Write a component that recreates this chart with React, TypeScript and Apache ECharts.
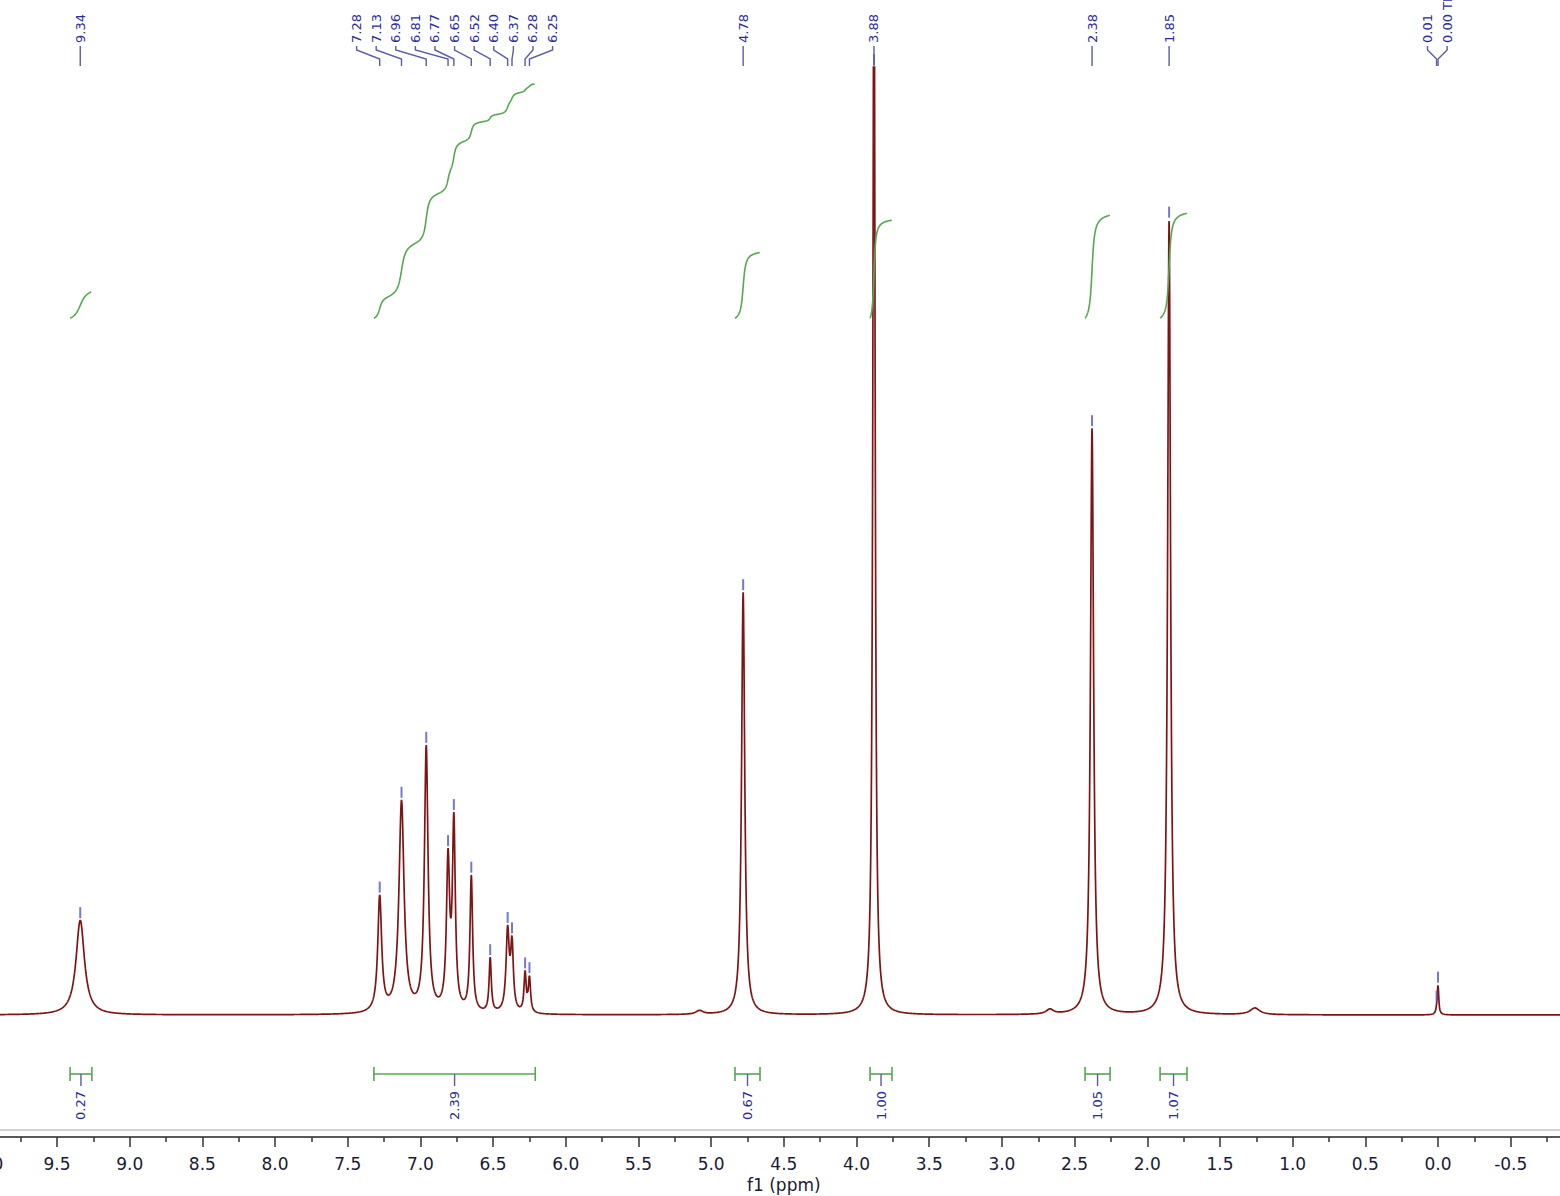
import React, { useEffect, useRef } from "react";
import * as echarts from "echarts";

// ---- data ----
const peakPpm = [9.34, 7.28, 7.13, 6.96, 6.81, 6.77, 6.65, 6.52, 6.40, 6.37, 6.28, 6.25, 4.78, 3.88, 2.38, 1.85, 0.01, 0.00];
const peakHeight = [10.0, 12.7, 22.7, 28.5, 17.6, 21.4, 14.8, 6.1, 9.5, 8.4, 4.7, 4.2, 44.6, 120, 61.9, 83.9, 1.2, 3.2];
const peakWidth = [0.035, 0.016, 0.021, 0.015, 0.013, 0.012, 0.011, 0.009, 0.013, 0.011, 0.009, 0.009, 0.013, 0.009, 0.013, 0.012, 0.006, 0.006];
const peakLabel = ["9.34", "7.28", "7.13", "6.96", "6.81", "6.77", "6.65", "6.52", "6.40", "6.37", "6.28", "6.25", "4.78", "3.88", "2.38", "1.85", "0.01", "0.00 TMS"];

const minorPpm = [5.08, 2.67, 1.26];
const minorHeight = [0.4, 0.5, 0.7];
const minorWidth = [0.03, 0.03, 0.04];

const integralFrom = [9.41, 7.32, 4.836, 3.907, 2.428, 1.912];
const integralTo = [9.26, 6.21, 4.664, 3.756, 2.256, 1.727];
const integralValue = [0.27, 2.39, 0.67, 1.0, 1.05, 1.07];

const axisMin = -1.0;
const axisMax = 10.0;
const axisStep = 0.5;

// ---- derived spectrum (Lorentzian line shapes from the peak list) ----
const lor = (x: number, x0: number, w: number) => 1 / (1 + ((x - x0) / w) ** 2);
const minorAt = (x: number) => {
  let s = 0;
  for (let j = 0; j < minorPpm.length; j++) s += minorHeight[j] * lor(x, minorPpm[j], minorWidth[j]);
  return s;
};
const amps = peakHeight.slice();
for (let it = 0; it < 60; it++) {
  for (let i = 0; i < peakPpm.length; i++) {
    let others = minorAt(peakPpm[i]);
    for (let j = 0; j < peakPpm.length; j++) if (j !== i) others += amps[j] * lor(peakPpm[i], peakPpm[j], peakWidth[j]);
    amps[i] = Math.max(0, peakHeight[i] - others);
  }
}
const spectrumAt = (x: number) => {
  let s = minorAt(x);
  for (let j = 0; j < peakPpm.length; j++) s += amps[j] * lor(x, peakPpm[j], peakWidth[j]);
  return s;
};
const STEP = 0.0015;
const spectrum: number[][] = [];
for (let x = axisMax; x >= axisMin; x -= STEP) spectrum.push([x, spectrumAt(x)]);

const INTEGRAL_BASE = 73.5;
const INTEGRAL_SCALE = 10.34;
const integralCurves = integralFrom.map((from, k) => {
  const to = integralTo[k];
  const xs: number[] = [];
  for (let x = from; x >= to; x -= STEP / 2) xs.push(x);
  const cum: number[] = [0];
  for (let i = 1; i < xs.length; i++) cum.push(cum[i - 1] + (spectrumAt(xs[i]) + spectrumAt(xs[i - 1])) / 2);
  const total = cum[cum.length - 1];
  return xs.map((x, i) => [x, INTEGRAL_BASE + (cum[i] / total) * integralValue[k] * INTEGRAL_SCALE]);
});

const BLUE_TEXT = "#2c2c9c";
const BLUE_MARK = "rgba(95,95,205,0.85)";
const GREEN = "#55a84f";
const RED = "#7e1515";

// label layout: spread overlapping labels around the middle of their extreme peaks
function layoutLabels(px: number[], gap: number): number[] {
  const order = px.map((_, i) => i).sort((a, b) => px[a] - px[b]);
  let clusters = order.map((i) => ({ members: [i], lo: px[i], hi: px[i] }));
  const centerOf = (c: any) => (c.lo + c.hi) / 2;
  let changed = true;
  while (changed) {
    changed = false;
    for (let k = 0; k < clusters.length - 1; k++) {
      const a = clusters[k], b = clusters[k + 1];
      const aRight = centerOf(a) + ((a.members.length - 1) * gap) / 2;
      const bLeft = centerOf(b) - ((b.members.length - 1) * gap) / 2;
      if (bLeft - aRight < gap) {
        clusters.splice(k, 2, { members: a.members.concat(b.members), lo: Math.min(a.lo, b.lo), hi: Math.max(a.hi, b.hi) });
        changed = true;
        break;
      }
    }
  }
  const out: number[] = new Array(px.length);
  clusters.forEach((c) => {
    const c0 = centerOf(c) - ((c.members.length - 1) * gap) / 2;
    c.members.forEach((m, r) => (out[m] = c0 + r * gap));
  });
  return out;
}

export default function App() {
  const ref = useRef<HTMLDivElement>(null);
  useEffect(() => {
    if (!ref.current) return;
    const chart = echarts.init(ref.current, undefined, { renderer: "svg" });
    const labelFont = { fontSize: 13, fontFamily: "DejaVu Sans" };
    chart.setOption({
      animation: false,
      backgroundColor: "#ffffff",
      grid: { left: 24.3, right: 56.6, top: 67, bottom: 59, containLabel: false, outerBoundsMode: "none" },
      xAxis: {
        type: "value",
        inverse: true,
        min: axisMin,
        max: axisMax,
        interval: axisStep,
        name: "f1 (ppm)",
        nameLocation: "middle",
        nameGap: 37,
        nameTextStyle: { fontSize: 17, color: "#1a1a33", fontFamily: "DejaVu Sans" },
        axisLine: { onZero: false, lineStyle: { color: "#222", width: 1.5 } },
        axisTick: { length: 10, lineStyle: { color: "#333", width: 1.5 } },
        minorTick: { show: true, splitNumber: 2, length: 5, lineStyle: { color: "#333", width: 1.5 } },
        axisLabel: {
          fontSize: 17,
          color: "#1a1a33",
          margin: 18,
          fontFamily: "DejaVu Sans",
          formatter: (v: number) => (v <= axisMin ? "" : v.toFixed(1)),
        },
        splitLine: { show: false },
      },
      yAxis: { type: "value", min: -12.87, max: 100, show: false },
      graphic: [
        { type: "line", shape: { x1: 40, y1: 1130, x2: 1600, y2: 1130 }, style: { stroke: "#d2d2d2", lineWidth: 2 }, silent: true },
      ],
      series: [
        {
          type: "line",
          data: spectrum,
          showSymbol: false,
          symbol: "none",
          lineStyle: { color: RED, width: 1.7 },
          z: 3,
        },
        ...integralCurves.map((curve) => ({
          type: "line",
          data: curve,
          showSymbol: false,
          symbol: "none",
          lineStyle: { color: GREEN, width: 1.6 },
          z: 4,
        })),
        {
          type: "custom",
          clip: false,
          z: 5,
          data: peakPpm.map((p) => [p, 0]),
          encode: { x: 0, y: 1 },
          renderItem: (params: any, api: any) => {
            const i = params.dataIndex;
            const cs = params.coordSys;
            const gt = cs.y;
            const pxs = peakPpm.map((p) => api.coord([p, 0])[0]);
            const lxs = layoutLabels(pxs, 19.6);
            const px = pxs[i];
            const lx = lxs[i];
            const ty = Math.max(api.coord([peakPpm[i], spectrumAt(peakPpm[i])])[1], gt);
            return {
              type: "group",
              children: [
                { type: "line", shape: { x1: px, y1: ty - 13, x2: px, y2: ty - 2 }, style: { stroke: BLUE_MARK, lineWidth: 2 } },
                {
                  type: "polyline",
                  shape: { points: [[lx, gt - 21], [lx, gt - 17], [px, gt - 8], [px, gt - 1]] },
                  style: { stroke: "#5a5aa8", lineWidth: 1.4, fill: null },
                },
                {
                  type: "text",
                  x: lx,
                  y: gt - 24,
                  rotation: Math.PI / 2,
                  style: { text: peakLabel[i], fill: BLUE_TEXT, align: "left", verticalAlign: "middle", ...labelFont },
                },
              ],
            };
          },
        },
        {
          type: "custom",
          clip: false,
          z: 5,
          data: integralFrom.map((f, k) => [f, integralTo[k], integralValue[k]]),
          encode: { x: [0, 1] },
          renderItem: (params: any, api: any) => {
            const k = params.dataIndex;
            const cs = params.coordSys;
            const gb = cs.y + cs.height;
            const x1 = api.coord([integralFrom[k], 0])[0];
            const x2 = api.coord([integralTo[k], 0])[0];
            const cx = (x1 + x2) / 2;
            const by = gb - 63;
            const st = { stroke: GREEN, lineWidth: 1.6 };
            return {
              type: "group",
              children: [
                { type: "line", shape: { x1, y1: by, x2, y2: by }, style: st },
                { type: "line", shape: { x1, y1: by - 7, x2: x1, y2: by + 7 }, style: st },
                { type: "line", shape: { x1: x2, y1: by - 7, x2, y2: by + 7 }, style: st },
                { type: "line", shape: { x1: cx, y1: by, x2: cx, y2: by + 12 }, style: { stroke: "#5a5aa8", lineWidth: 1.4 } },
                {
                  type: "text",
                  x: cx,
                  y: gb - 17,
                  rotation: Math.PI / 2,
                  style: { text: integralValue[k].toFixed(2), fill: BLUE_TEXT, align: "left", verticalAlign: "middle", ...labelFont },
                },
              ],
            };
          },
        },
      ],
    });
    return () => chart.dispose();
  }, []);
  return (
    <div style={{ position: "fixed", left: 0, top: 0, width: 1560, height: 1196, overflow: "hidden", background: "#fff" }}>
      <div ref={ref} style={{ position: "absolute", left: -40, top: 0, width: 1680, height: 1196 }} />
    </div>
  );
}
